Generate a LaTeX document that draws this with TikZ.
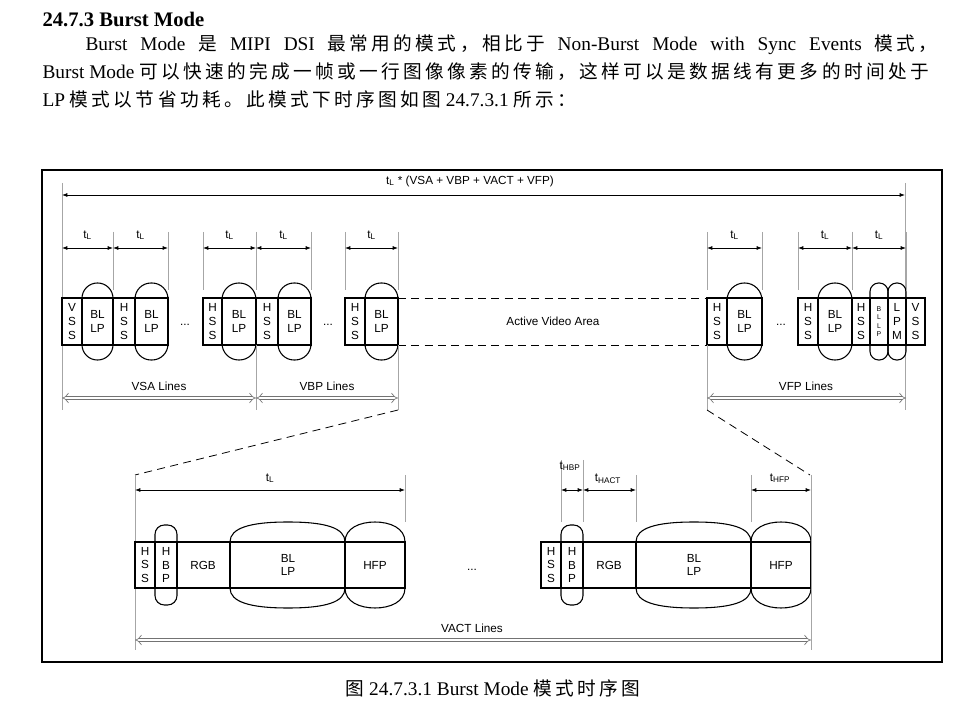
\documentclass[tikz,border=0pt]{standalone}
\usepackage{fontspec}
\setmainfont{Liberation Serif}
\newfontfamily\cjk[LetterSpace=18]{Noto Sans CJK SC}
\newfontfamily\dg{Liberation Sans}
\usetikzlibrary{arrows.meta}
\newcommand{\zh}[1]{{\cjk\fontsize{14}{16}\selectfont #1}}
\begin{document}
\begin{tikzpicture}[x=0.75pt,y=-0.75pt,
  line width=0.8pt,
  txt/.style={inner sep=0pt,font=\dg\fontsize{8.8}{10.2}\selectfont,align=center},
  small/.style={inner sep=0pt,font=\dg\fontsize{6}{7}\selectfont,align=center},
  guide/.style={draw=black!35,line width=0.5pt},
  dim/.style={line width=0.6pt,{Latex[length=4pt,width=3pt]}-{Latex[length=4pt,width=3pt]}},
  hollow/.style={draw=black!55,double=white,double distance=2.2pt,line width=0.5pt,{Implies}-{Implies}},
  zoomline/.style={dashed,dash pattern=on 6pt off 4pt,line width=0.6pt}]
\useasboundingbox (0,0) rectangle (976,709);
% heading text
\node[anchor=base west,inner sep=0pt,font=\bfseries\fontsize{15.5}{18}\selectfont] (h) at (42,27) {24.7.3 Burst Mode};
\node[anchor=base west,inner sep=0pt,font=\fontsize{14.5}{17}\selectfont] (p1) at (85,51) {\makebox[639pt][s]{Burst Mode \zh{是} MIPI DSI \zh{最常用的模式，相比于} Non-Burst Mode with Sync Events \zh{模式，}}};
\node[anchor=base west,inner sep=0pt,font=\fontsize{14.5}{17}\selectfont] (p2) at (42,79) {Burst Mode \zh{可以快速的完成一帧或一行图像像素的传输，这样可以是数据线有更多的时间处于}};
\node[anchor=base west,inner sep=0pt,font=\fontsize{14.5}{17}\selectfont] (p3) at (42,107) {LP \zh{模式以节省功耗。此模式下时序图如图} 24.7.3.1 \zh{所示：}};
\node[anchor=base,inner sep=0pt,font=\fontsize{14.5}{17}\selectfont] (cap) at (493,695) {\zh{图} 24.7.3.1 Burst Mode \zh{模式时序图}};
% frame
\draw[line width=1pt] (42,170) rectangle (942,662);

% ---------- top row ----------
\coordinate (T0) at (62,195); \coordinate (T1) at (905,195);
\draw[guide] (62,183) -- (62,410); \draw[guide] (905,183) -- (905,410);
\draw[dim] (T0) -- (T1);
\node[txt] (tt) at (470,181) {t\textsubscript{L} * (VSA + VBP + VACT + VFP)};

\foreach \a/\b/\r in {82/113/11.5,135/168/12,222/256/12.5,278/311/12,365/398/12,727/762/13,818/852/12.5}
  \draw[rounded corners=\r pt] (\a,283) rectangle (\b,360);
\draw[rounded corners=6.5pt] (870,283) rectangle (888,360);
\draw[rounded corners=6.5pt] (888,283) rectangle (906,360);
\foreach \a/\b/\t in {62/82/V\\S\\S,82/113/BL\\LP,113/135/H\\S\\S,135/168/BL\\LP,203/222/H\\S\\S,222/256/BL\\LP,256/278/H\\S\\S,278/311/BL\\LP,345/365/H\\S\\S,365/398/BL\\LP,707/727/H\\S\\S,727/762/BL\\LP,798/818/H\\S\\S,818/852/BL\\LP,852/870/H\\S\\S,888/906/L\\P\\M,906/925/V\\S\\S}{
  \draw (\a,298) rectangle (\b,345);
  \node[txt] at ({(\a+\b)/2},321.5) {\t};}
\draw (870,298) rectangle (888,345);
\node[small,font=\dg\fontsize{5.2}{6.4}\selectfont] (bllp) at (879,321.5) {B\\L\\L\\P};
\node[txt] (d1) at (185,325) {...};
\node[txt] (d2) at (328,325) {...};
\node[txt] (d3) at (781,325) {...};
\draw[zoomline] (398,298) -- (707,298);
\draw[zoomline] (398,345) -- (707,345);
\node[txt] (ava) at (553,321.5) {Active Video Area};

\foreach \a/\b in {62/113,113/168,203/256,256/311,345/398,707/762,798/852,852/906}{
  \draw[guide] (\a,232) -- (\a,290); \draw[guide] (\b,232) -- (\b,290);
  \draw[dim] (\a,248) -- (\b,248);
  \node[txt] at ({(\a+\b)/2},235) {t\textsubscript{L}};}
\foreach \a in {256,398,707}{\draw[guide] (\a,345) -- (\a,410);}
\draw[hollow] (62,398) -- (256,398);
\draw[hollow] (256,398) -- (398,398);
\draw[hollow] (707,398) -- (906,398);
\node[txt] (vsa) at (159,386) {VSA Lines};
\node[txt] (vbp) at (327,386) {VBP Lines};
\node[txt] (vfp) at (806,386) {VFP Lines};
\draw[zoomline] (398,410) -- (135,475);
\draw[zoomline] (707,410) -- (810,475);

% ---------- bottom ----------
\draw[guide] (135,475) -- (135,650); \draw[guide] (405,475) -- (405,522);
\draw[dim] (135,490) -- (405,490);
\node[txt] (tlb) at (270,478) {t\textsubscript{L}};
\foreach \o in {0,406}{
 \begin{scope}[xshift=\o*0.75pt]
  \draw[rounded corners=7pt] (155,525) rectangle (177,605);
  \draw (230,542) .. controls (230,528) and (250,522) .. (288,522) .. controls (326,522) and (345,528) .. (345,542);
  \draw (230,588) .. controls (230,602) and (250,608) .. (288,608) .. controls (326,608) and (345,602) .. (345,588);
  \draw (345,542) .. controls (345,528) and (360,522) .. (375,522) .. controls (390,522) and (405,528) .. (405,542);
  \draw (345,588) .. controls (345,602) and (360,608) .. (375,608) .. controls (390,608) and (405,602) .. (405,588);
  \draw (135,542) rectangle (405,588);
  \foreach \x in {155,177,230,345} \draw (\x,542) -- (\x,588);
  \node[txt] at (145,565) {H\\S\\S};
  \node[txt] at (166,565) {H\\B\\P};
  \node[txt] at (203,565) {RGB};
  \node[txt] at (288,565) {BL\\LP};
  \node[txt] at (375,565) {HFP};
 \end{scope}}
\node[txt] (d4) at (472,570) {...};
\foreach \x/\ya/\yb in {561/460/522,583/460/522,636/475/522,751/475/522} \draw[guide] (\x,\ya) -- (\x,\yb);
\draw[guide] (811,475) -- (811,650);
\draw[dim] (561,490) -- (583,490);
\draw[dim] (583,490) -- (636,490);
\draw[dim] (751,490) -- (811,490);
\node[txt] (thbp) at (570,466) {t\textsubscript{HBP}};
\node[txt] (thact) at (608,479) {t\textsubscript{HACT}};
\node[txt] (thfp) at (780,478) {t\textsubscript{HFP}};
\draw[hollow] (135,640) -- (811,640);
\node[txt] (vact) at (472,628) {VACT Lines};
\end{tikzpicture}
\end{document}
